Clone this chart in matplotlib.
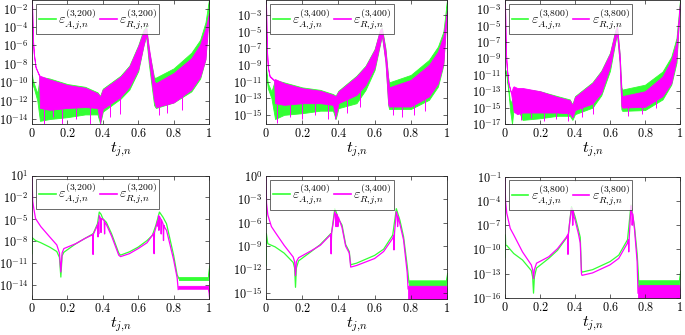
import numpy as np
import matplotlib
matplotlib.use("Agg")
import matplotlib.pyplot as plt

plt.rcParams['mathtext.fontset'] = 'cm'
plt.rcParams['font.family'] = 'DejaVu Serif'

GREEN = '#33ff33'
MAGENTA = '#ff00ff'

# ---- top row: noisy bands, values are log10 of the error ----
# panel 1, n = 200
t_a1 = [0, 0.003, 0.01, 0.03, 0.045, 0.1, 0.2, 0.3, 0.37, 0.385, 0.4, 0.5, 0.55, 0.6, 0.63, 0.645, 0.66, 0.69, 0.7, 0.8, 0.9, 0.95, 0.98, 1.0]
a1_hi = [-9.2, -9.6, -10.1, -11.2, -9.4, -9.6, -10.2, -10.5, -11.1, -11.5, -10.7, -9.3, -8.2, -6.0, -4.3, -3.9, -6.5, -9.5, -9.5, -8.5, -6.8, -5.4, -3.5, -1.0]
a1_lo = [-10.0, -10.3, -10.6, -12.0, -14.2, -14.0, -13.8, -13.5, -13.5, -14.5, -13.2, -11.8, -10.8, -8.8, -6.0, -5.0, -8.0, -12.5, -12.8, -12.2, -11.0, -9.6, -7.5, -1.2]
t_r1 = [0, 0.003, 0.006, 0.01, 0.02, 0.04, 0.045, 0.1, 0.2, 0.3, 0.37, 0.385, 0.4, 0.5, 0.55, 0.6, 0.63, 0.645, 0.66, 0.69, 0.7, 0.8, 0.9, 0.95, 0.98, 1.0]
r1_hi = [-1.0, -4.0, -5.5, -6.8, -8.3, -9.2, -9.3, -9.7, -10.3, -10.6, -11.2, -11.6, -10.8, -9.4, -8.3, -6.1, -4.5, -4.1, -6.2, -9.9, -10.1, -9.0, -7.4, -5.9, -4.2, -2.5]
r1_lo = [-1.1, -4.1, -5.6, -6.9, -8.4, -9.3, -12.8, -13.0, -12.8, -12.7, -12.8, -14.3, -12.9, -11.6, -10.5, -8.6, -6.0, -4.8, -7.5, -12.0, -12.7, -12.2, -10.8, -9.4, -7.5, -2.6]
sp_r1_t = [0.07, 0.12, 0.17, 0.25, 0.33, 0.383, 0.44, 0.5, 0.72, 0.76, 0.85]
sp_r1_e = [-14.5, -13.8, -14.5, -14.0, -14.5, -14.5, -13.8, -13.5, -13.6, -13.3, -13.0]

# panel 2, n = 400
t_a2 = [0, 0.003, 0.01, 0.03, 0.05, 0.1, 0.2, 0.3, 0.37, 0.385, 0.4, 0.5, 0.55, 0.6, 0.63, 0.64, 0.66, 0.675, 0.68, 0.8, 0.9, 0.95, 0.98, 1.0]
a2_hi = [-9.0, -10.0, -11.2, -12.2, -10.8, -11.1, -11.7, -12.0, -12.5, -12.7, -12.1, -10.3, -9.1, -7.1, -4.8, -4.5, -7.0, -10.5, -11.1, -10.2, -8.4, -6.8, -5.0, -1.2]
a2_lo = [-9.5, -10.5, -11.8, -13.0, -15.5, -15.0, -14.8, -14.5, -14.5, -15.5, -14.2, -13.6, -12.0, -9.6, -6.5, -5.5, -8.5, -13.8, -14.3, -14.3, -13.2, -11.6, -9.0, -1.3]
t_r2 = [0, 0.003, 0.006, 0.01, 0.02, 0.045, 0.05, 0.1, 0.2, 0.3, 0.37, 0.385, 0.4, 0.5, 0.55, 0.6, 0.63, 0.64, 0.66, 0.675, 0.68, 0.8, 0.9, 0.95, 0.98, 1.0]
r2_hi = [-1.2, -5.5, -7.5, -9.2, -10.3, -10.8, -10.7, -11.2, -11.8, -12.1, -12.6, -12.8, -12.2, -10.4, -9.2, -7.2, -4.8, -4.6, -7.2, -10.6, -11.7, -10.8, -9.0, -7.4, -5.5, -2.5]
r2_lo = [-1.3, -5.6, -7.6, -9.3, -10.4, -10.9, -13.6, -13.8, -13.6, -13.6, -13.8, -15.2, -13.6, -12.6, -11.4, -9.3, -6.4, -5.3, -8.7, -13.6, -14.0, -14.0, -12.8, -11.2, -8.8, -2.6]
sp_r2_t = [0.06, 0.13, 0.2, 0.27, 0.34, 0.383, 0.45, 0.52, 0.7, 0.75, 0.82, 0.88]
sp_r2_e = [-16.0, -15.2, -15.5, -15.0, -15.5, -15.5, -14.8, -14.0, -15.0, -15.2, -15.0, -14.5]

# panel 3, n = 800
t_a3 = [0, 0.003, 0.01, 0.02, 0.03, 0.04, 0.05, 0.06, 0.08, 0.1, 0.2, 0.3, 0.37, 0.385, 0.4, 0.5, 0.55, 0.6, 0.63, 0.64, 0.655, 0.665, 0.67, 0.8, 0.9, 0.95, 0.98, 1.0]
a3_hi = [-10.6, -10.4, -11.0, -12.8, -14.5, -14.0, -13.8, -13.6, -14.2, -12.7, -13.0, -13.6, -14.0, -14.6, -13.6, -11.9, -10.5, -8.3, -5.6, -5.0, -8.4, -12.5, -12.8, -12.2, -10.6, -8.8, -6.5, -1.9]
a3_lo = [-10.8, -10.6, -11.3, -13.2, -15.5, -17.0, -15.0, -14.5, -15.5, -16.5, -16.3, -16.0, -16.0, -16.5, -15.8, -15.0, -13.5, -10.5, -7.0, -6.0, -9.5, -15.2, -15.4, -15.3, -14.0, -12.2, -9.5, -2.0]
t_r3 = [0, 0.003, 0.006, 0.01, 0.02, 0.035, 0.045, 0.05, 0.07, 0.1, 0.2, 0.3, 0.37, 0.385, 0.4, 0.5, 0.55, 0.6, 0.63, 0.64, 0.655, 0.665, 0.67, 0.8, 0.9, 0.95, 0.98, 1.0]
r3_hi = [-1.9, -6.5, -8.5, -10.0, -12.0, -13.2, -12.5, -12.4, -12.6, -12.6, -13.0, -13.7, -14.1, -14.7, -13.7, -12.0, -10.6, -8.4, -5.7, -5.1, -8.4, -12.8, -13.6, -13.0, -11.2, -9.2, -7.0, -2.2]
r3_lo = [-2.0, -6.6, -8.6, -10.1, -12.1, -13.3, -14.8, -15.5, -15.8, -15.6, -15.6, -15.6, -15.7, -16.2, -15.3, -14.5, -13.2, -10.0, -6.8, -5.8, -9.5, -14.8, -15.0, -14.9, -13.6, -12.0, -9.0, -2.3]
sp_r3_t = [0.09, 0.15, 0.22, 0.29, 0.36, 0.44, 0.5, 0.7, 0.78, 0.86]
sp_r3_e = [-16.5, -16.3, -16.6, -16.4, -16.6, -16.2, -15.8, -16.0, -15.8, -15.0]

# ---- bottom row: smooth curves with a noisy tail ----
# panel 4, n = 200
t_a4 = [0, 0.002, 0.005, 0.02, 0.05, 0.1, 0.14, 0.155, 0.163, 0.17, 0.18, 0.25, 0.3, 0.343, 0.345, 0.347, 0.37, 0.38, 0.39, 0.4, 0.42, 0.45, 0.49, 0.5, 0.55, 0.6, 0.65, 0.68, 0.7, 0.72, 0.74, 0.76, 0.8, 0.82, 0.83]
a4 = [-9.7, -7.5, -7.6, -7.9, -8.2, -8.8, -9.4, -10.2, -12.9, -10.0, -9.5, -8.3, -7.6, -7.0, -8.5, -6.9, -5.6, -4.0, -4.3, -4.9, -5.4, -7.0, -9.6, -9.9, -9.45, -8.8, -7.9, -7.2, -5.8, -4.0, -4.7, -5.6, -9.9, -12.6, -13.1]
t_r4 = [0, 0.004, 0.01, 0.02, 0.05, 0.1, 0.14, 0.155, 0.163, 0.17, 0.18, 0.25, 0.3, 0.343, 0.345, 0.347, 0.37, 0.373, 0.375, 0.377, 0.38, 0.388, 0.39, 0.392, 0.4, 0.408, 0.41, 0.412, 0.42, 0.45, 0.49, 0.5, 0.55, 0.6, 0.65, 0.688, 0.69, 0.692, 0.71, 0.713, 0.715, 0.717, 0.72, 0.728, 0.73, 0.732, 0.74, 0.743, 0.745, 0.747, 0.76, 0.8, 0.82, 0.826]
r4 = [1.0, -2.5, -3.5, -4.9, -6.0, -7.4, -8.5, -9.6, -12.2, -9.6, -9.0, -8.3, -7.6, -7.1, -9.8, -7.0, -5.8, -7.4, -5.4, -7.0, -4.5, -4.9, -6.8, -4.9, -5.0, -5.2, -7.0, -5.4, -5.7, -7.3, -9.9, -10.1, -9.7, -9.0, -8.2, -6.9, -9.7, -6.8, -5.2, -6.0, -4.5, -6.5, -4.6, -5.0, -7.0, -5.1, -5.6, -7.9, -5.8, -6.0, -6.5, -10.5, -13.0, -14.6]
t_a4_tail = [0.83, 0.9, 0.995, 1.0]
a4_tail_hi = [-12.9, -12.9, -12.9, -11.3]
a4_tail_lo = [-13.3, -13.3, -13.3, -11.4]
t_r4_tail = [0.826, 0.9, 0.995, 1.0]
r4_tail_hi = [-14.1, -14.1, -14.1, -15.0]
r4_tail_lo = [-14.5, -14.5, -14.5, -15.9]

# panel 5, n = 400
t_a5 = [0, 0.002, 0.01, 0.05, 0.1, 0.15, 0.158, 0.163, 0.168, 0.18, 0.25, 0.3, 0.35, 0.358, 0.36, 0.362, 0.37, 0.38, 0.39, 0.4, 0.42, 0.44, 0.46, 0.468, 0.5, 0.6, 0.65, 0.7, 0.72, 0.74, 0.76, 0.78, 0.79]
a5 = [-11.5, -7.4, -8.7, -9.1, -9.9, -11.1, -11.8, -14.3, -11.8, -10.9, -9.7, -8.8, -7.6, -7.4, -9.5, -7.3, -6.0, -4.2, -4.8, -5.5, -6.3, -8.8, -9.7, -11.4, -11.2, -10.2, -9.4, -7.6, -4.2, -5.7, -7.8, -11.5, -13.7]
t_r5 = [0, 0.003, 0.01, 0.03, 0.05, 0.1, 0.15, 0.158, 0.163, 0.168, 0.18, 0.25, 0.3, 0.35, 0.358, 0.36, 0.362, 0.37, 0.38, 0.385, 0.387, 0.39, 0.395, 0.397, 0.4, 0.42, 0.44, 0.46, 0.468, 0.5, 0.6, 0.65, 0.7, 0.705, 0.707, 0.71, 0.72, 0.725, 0.727, 0.73, 0.74, 0.76, 0.78, 0.785]
r5 = [0.0, -3.5, -5.0, -6.5, -7.2, -8.9, -10.4, -11.0, -12.8, -11.0, -10.5, -9.6, -8.9, -7.7, -7.5, -10.0, -7.4, -6.2, -4.6, -5.0, -6.5, -4.9, -5.1, -6.5, -5.3, -6.6, -9.0, -9.9, -11.7, -11.5, -10.6, -9.7, -8.0, -7.6, -9.5, -7.3, -4.6, -5.0, -6.5, -5.2, -6.2, -8.2, -12.4, -14.5]
t_a5_tail = [0.79, 0.9, 0.995, 1.0]
a5_tail_hi = [-13.4, -13.4, -13.4, -12.4]
a5_tail_lo = [-14.1, -14.1, -14.1, -12.5]
t_r5_tail = [0.785, 0.9, 0.995, 1.0]
r5_tail_hi = [-14.1, -14.1, -14.1, -14.5]
r5_tail_lo = [-15.8, -15.8, -15.8, -15.8]

# panel 6, n = 800
t_a6 = [0, 0.002, 0.004, 0.01, 0.05, 0.1, 0.15, 0.158, 0.163, 0.168, 0.18, 0.25, 0.3, 0.35, 0.358, 0.36, 0.362, 0.37, 0.38, 0.39, 0.4, 0.42, 0.43, 0.437, 0.44, 0.5, 0.6, 0.65, 0.7, 0.72, 0.74, 0.755, 0.762, 0.765]
a6 = [-11.0, -8.2, -9.5, -9.5, -10.5, -11.3, -12.6, -13.4, -15.4, -13.4, -12.3, -11.1, -10.1, -8.6, -8.3, -10.3, -8.2, -6.5, -4.7, -5.3, -5.9, -7.6, -8.5, -12.6, -12.8, -12.5, -11.5, -10.7, -8.8, -4.5, -7.2, -10.5, -13.0, -14.6]
t_r6 = [0, 0.003, 0.01, 0.03, 0.05, 0.1, 0.15, 0.158, 0.163, 0.168, 0.18, 0.25, 0.3, 0.35, 0.358, 0.36, 0.362, 0.37, 0.38, 0.385, 0.387, 0.39, 0.395, 0.4, 0.42, 0.43, 0.437, 0.44, 0.5, 0.6, 0.65, 0.7, 0.705, 0.707, 0.71, 0.72, 0.725, 0.727, 0.73, 0.74, 0.755, 0.76]
r6 = [-1.0, -4.0, -5.5, -7.4, -8.2, -10.3, -11.9, -12.5, -13.6, -12.5, -11.7, -10.9, -9.9, -8.5, -8.2, -10.6, -8.1, -6.6, -4.9, -5.4, -7.0, -5.2, -6.0, -6.3, -8.1, -9.2, -13.0, -13.2, -12.9, -11.9, -11.1, -9.2, -8.8, -10.3, -8.5, -4.6, -5.4, -7.0, -5.6, -7.5, -11.5, -15.4]
t_a6_tail = [0.765, 0.9, 0.995, 1.0]
a6_tail_hi = [-13.8, -13.8, -13.8, -12.6]
a6_tail_lo = [-14.6, -14.6, -14.6, -12.7]
t_r6_tail = [0.76, 0.9, 0.995, 1.0]
r6_tail_hi = [-14.4, -14.4, -14.4, -15.0]
r6_tail_lo = [-16.0, -16.0, -16.0, -16.0]

ns = [200, 400, 800]
ylims = [(-14.54, -1.07), (-16.1, -1.2), (-17.0, -1.86),
         (-15.9, 1.0), (-15.8, 0.0), (-16.0, -1.0)]
yticks = [range(-14, -1, 2), range(-15, -2, 2), range(-17, -2, 2),
          range(-14, 2, 3), range(-15, 1, 3), range(-16, 0, 3)]

# axes rectangles in pixels: left, top, right, bottom
W, H = 685, 335
boxes = [(32, 0, 209, 124), (266, 0, 447, 124), (505, 0, 680, 124),
         (32, 175.5, 209, 299), (266, 176, 447, 299), (505, 176.7, 680, 298)]

fig = plt.figure(figsize=(W / 100, H / 100), dpi=100)


def band(ax, t, hi, lo, color):
    ax.fill_between(t, 10.0 ** np.array(lo), 10.0 ** np.array(hi),
                    color=color, linewidth=0.6, edgecolor=color)


def spikes(ax, t, e, t_band, lo, color):
    base = np.interp(t, t_band, lo)
    ax.vlines(t, 10.0 ** np.array(e), 10.0 ** base, color=color, linewidth=0.7)


axes = []
for i, (l, t, r, b) in enumerate(boxes):
    ax = fig.add_axes([l / W, 1 - b / H, (r - l) / W, (b - t) / H])
    ax.set_yscale('log')
    axes.append(ax)

# top row
band(axes[0], t_a1, a1_hi, a1_lo, GREEN)
band(axes[0], t_r1, r1_hi, r1_lo, MAGENTA)
spikes(axes[0], sp_r1_t, sp_r1_e, t_r1, r1_lo, MAGENTA)
band(axes[1], t_a2, a2_hi, a2_lo, GREEN)
band(axes[1], t_r2, r2_hi, r2_lo, MAGENTA)
spikes(axes[1], sp_r2_t, sp_r2_e, t_r2, r2_lo, MAGENTA)
band(axes[2], t_a3, a3_hi, a3_lo, GREEN)
band(axes[2], t_r3, r3_hi, r3_lo, MAGENTA)
spikes(axes[2], sp_r3_t, sp_r3_e, t_r3, r3_lo, MAGENTA)

# bottom row
for ax, ta, ya, tr, yr, tat, ath, atl, trt, rth, rtl in [
        (axes[3], t_a4, a4, t_r4, r4, t_a4_tail, a4_tail_hi, a4_tail_lo, t_r4_tail, r4_tail_hi, r4_tail_lo),
        (axes[4], t_a5, a5, t_r5, r5, t_a5_tail, a5_tail_hi, a5_tail_lo, t_r5_tail, r5_tail_hi, r5_tail_lo),
        (axes[5], t_a6, a6, t_r6, r6, t_a6_tail, a6_tail_hi, a6_tail_lo, t_r6_tail, r6_tail_hi, r6_tail_lo)]:
    ax.plot(ta, 10.0 ** np.array(ya), color=GREEN, linewidth=0.9)
    band(ax, tat, ath, atl, GREEN)
    ax.plot(tr, 10.0 ** np.array(yr), color=MAGENTA, linewidth=0.9)
    band(ax, trt, rth, rtl, MAGENTA)

for i, ax in enumerate(axes):
    n = ns[i % 3]
    lo, hi = ylims[i]
    ax.set_xlim(0, 1)
    ax.set_ylim(10.0 ** lo, 10.0 ** hi)
    ax.set_xticks([0, 0.2, 0.4, 0.6, 0.8, 1.0],
                  ['$0$', '$0.2$', '$0.4$', '$0.6$', '$0.8$', '$1$'])
    ax.set_yticks([10.0 ** k for k in yticks[i]],
                  ['$10^{%d}$' % k for k in yticks[i]])
    ax.minorticks_off()
    ax.tick_params(direction='in', top=True, right=True, length=3,
                   width=0.5, labelsize=8.8, pad=2.5, color='#262626')
    for s in ax.spines.values():
        s.set_linewidth(0.6)
        s.set_color('#262626')
    ax.set_xlabel('$t_{j{,}n}$', fontsize=11.5, labelpad=0)
    h1, = ax.plot([], [], color=GREEN, linewidth=1.2)
    h2, = ax.plot([], [], color=MAGENTA, linewidth=1.2)
    leg = ax.legend([h1, h2],
                    [r'$\varepsilon^{(3{,}%d)}_{A{,}j{,}n}$' % n, r'$\varepsilon^{(3{,}%d)}_{R{,}j{,}n}$' % n],
                    loc='upper left', bbox_to_anchor=(0.023, 0.965 if i < 3 else 0.97),
                    ncol=2, fontsize=10, frameon=True, fancybox=False,
                    borderaxespad=0, handlelength=1.2, handletextpad=0.15,
                    columnspacing=0.3, borderpad=0.2)
    leg.get_frame().set_edgecolor('#262626')
    leg.get_frame().set_linewidth(0.6)

fig.savefig('out.png', dpi=100)
